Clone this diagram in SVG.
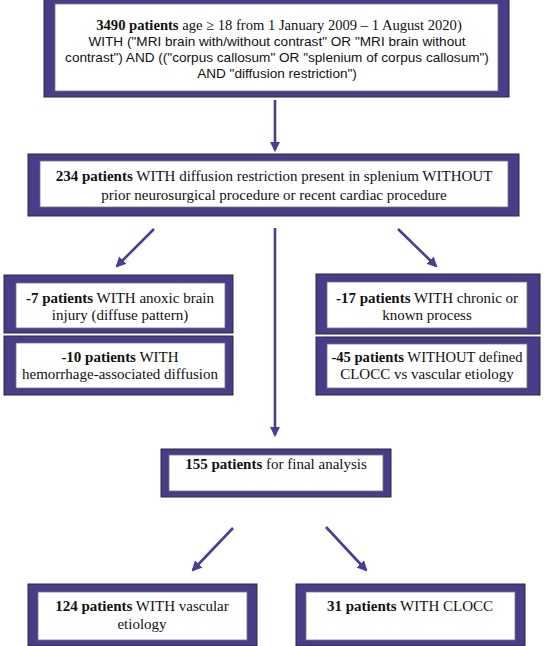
<svg xmlns="http://www.w3.org/2000/svg" width="550" height="646" viewBox="0 0 550 646">
<style>
.outer{fill:#4b3b8b;stroke:#2b2b3b;stroke-width:1}
.inner{fill:#fff;stroke:#777;stroke-width:0.8}
.t{font-family:"Liberation Serif","Times New Roman",serif;font-size:15px;fill:#111;text-anchor:middle}
.s{font-family:"Liberation Sans",Arial,sans-serif;font-size:13.6px;fill:#111;text-anchor:middle}
.b{font-weight:bold}
.c{stroke:#4b3b9b;stroke-width:2.6;fill:none;marker-end:url(#ah)}
</style>
<defs>
<marker id="ah" viewBox="0 0 10 10" refX="8" refY="5" markerWidth="4" markerHeight="4" orient="auto" markerUnits="strokeWidth">
<path d="M0,0 L10,5 L0,10 z" fill="#4b3b9b"/>
</marker>
</defs>
<rect width="550" height="646" fill="#fff"/>
<g id="connectors">
<line class="c" x1="275" y1="100" x2="275" y2="150"/>
<line class="c" x1="154" y1="229" x2="117" y2="266"/>
<line class="c" x1="275" y1="228" x2="275" y2="435"/>
<line class="c" x1="398" y1="229" x2="436" y2="266"/>
<line class="c" x1="233" y1="528" x2="193" y2="570"/>
<line class="c" x1="326" y1="527" x2="366" y2="570"/>
</g>
<g id="n1">
<rect class="outer" x="44" y="-5" width="465" height="102"/>
<rect class="inner" x="55" y="4" width="443" height="87"/>
<text class="t" x="279" y="30" style="font-size:14.6px"><tspan class="b">3490 patients</tspan> age ≥ 18 from 1 January 2009 – 1 August 2020)</text>
<text class="s" x="277" y="46">WITH ("MRI brain with/without contrast" OR "MRI brain without</text>
<text class="s" x="277" y="62">contrast") AND (("corpus callosum" OR "splenium of corpus callosum")</text>
<text class="s" x="277" y="78">AND "diffusion restriction")</text>
</g>
<g id="n2">
<rect class="outer" x="28" y="154" width="491" height="62"/>
<rect class="inner" x="40" y="161" width="468" height="46"/>
<text class="t" x="274" y="181"><tspan class="b">234 patients</tspan> WITH diffusion restriction present in splenium WITHOUT</text>
<text class="t" x="274" y="200">prior neurosurgical procedure or recent cardiac procedure</text>
</g>
<g id="n3">
<rect class="outer" x="4" y="275" width="229" height="58"/>
<rect class="inner" x="16" y="283" width="209" height="45"/>
<text class="t" x="120" y="303"><tspan class="b">-7 patients</tspan> WITH anoxic brain</text>
<text class="t" x="120" y="320">injury (diffuse pattern)</text>
</g>
<g id="n4">
<rect class="outer" x="4" y="336" width="229" height="59"/>
<rect class="inner" x="16" y="343" width="209" height="45"/>
<text class="t" x="120" y="362"><tspan class="b">-10 patients</tspan> WITH</text>
<text class="t" x="120" y="379">hemorrhage-associated diffusion</text>
</g>
<g id="n5">
<rect class="outer" x="316" y="274" width="224" height="60"/>
<rect class="inner" x="327" y="282" width="200" height="46"/>
<text class="t" x="427" y="303"><tspan class="b">-17 patients</tspan> WITH chronic or</text>
<text class="t" x="427" y="320">known process</text>
</g>
<g id="n6">
<rect class="outer" x="316" y="337" width="224" height="58"/>
<rect class="inner" x="327" y="344" width="200" height="44"/>
<text class="t" x="427" y="362" style="font-size:14.6px"><tspan class="b">-45 patients</tspan> WITHOUT defined</text>
<text class="t" x="427" y="379">CLOCC vs vascular etiology</text>
</g>
<g id="n7">
<rect class="outer" x="161" y="449" width="230" height="48"/>
<rect class="inner" x="169" y="455" width="214" height="36"/>
<text class="t" x="276" y="469"><tspan class="b">155 patients</tspan> for final analysis</text>
</g>
<g id="n8">
<rect class="outer" x="28" y="584" width="229" height="62"/>
<rect class="inner" x="38" y="592" width="209" height="48"/>
<text class="t" x="142" y="611"><tspan class="b">124 patients</tspan> WITH vascular</text>
<text class="t" x="142" y="629">etiology</text>
</g>
<g id="n9">
<rect class="outer" x="296" y="584" width="229" height="62"/>
<rect class="inner" x="306" y="592" width="209" height="48"/>
<text class="t" x="410" y="611"><tspan class="b">31 patients</tspan> WITH CLOCC</text>
</g>
</svg>
